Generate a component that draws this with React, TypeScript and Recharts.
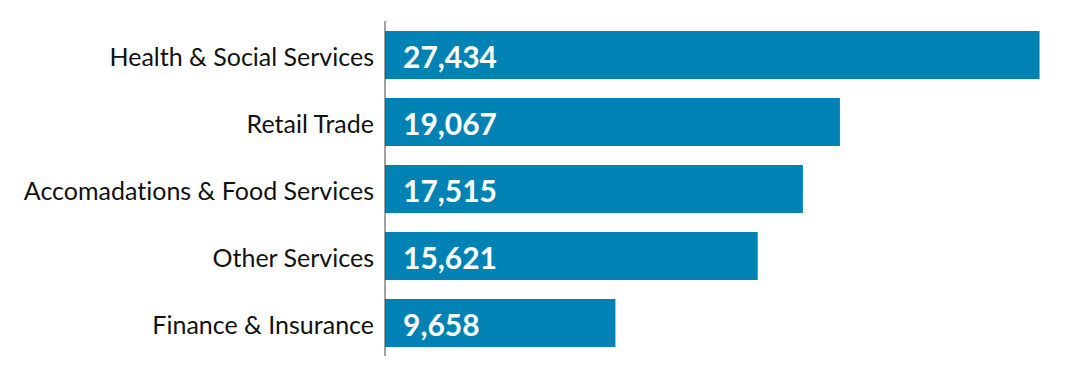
import { BarChart, Bar, XAxis, YAxis, LabelList } from "recharts";

const categories = [
  "Health & Social Services",
  "Retail Trade",
  "Accomadations & Food Services",
  "Other Services",
  "Finance & Insurance",
];

const employees = [27434, 19067, 17515, 15621, 9658];

const data = categories.map((name, i) => ({ name, value: employees[i] }));

const fmt = (v: number) => v.toLocaleString("en-US");

export default function App() {
  return (
    <div style={{ position: "absolute", left: 0, top: 0, background: "#fff", fontVariantLigatures: "none" }}>
      <BarChart
        width={1065}
        height={372}
        data={data}
        layout="vertical"
        margin={{ top: 21, right: 0, bottom: 16, left: 0 }}
      >
        <XAxis type="number" domain={[0, 28500]} hide />
        <YAxis
          type="category"
          dataKey="name"
          width={385}
          tickSize={0}
          tickMargin={11}
          axisLine={{ stroke: "#444", strokeWidth: 1 }}
          tick={{ fill: "#111", fontSize: 25, fontFamily: "Lato", dy: 3 }}
        />
        <Bar dataKey="value" fill="#0083b4" barSize={48} isAnimationActive={false}>
          <LabelList
            dataKey="value"
            position="insideLeft"
            offset={18}
            dy={2}
            formatter={(v: any) => fmt(Number(v))}
            style={{ fill: "#fff", fontSize: 30, fontWeight: 700, fontFamily: "Lato" }}
          />
        </Bar>
      </BarChart>
    </div>
  );
}
